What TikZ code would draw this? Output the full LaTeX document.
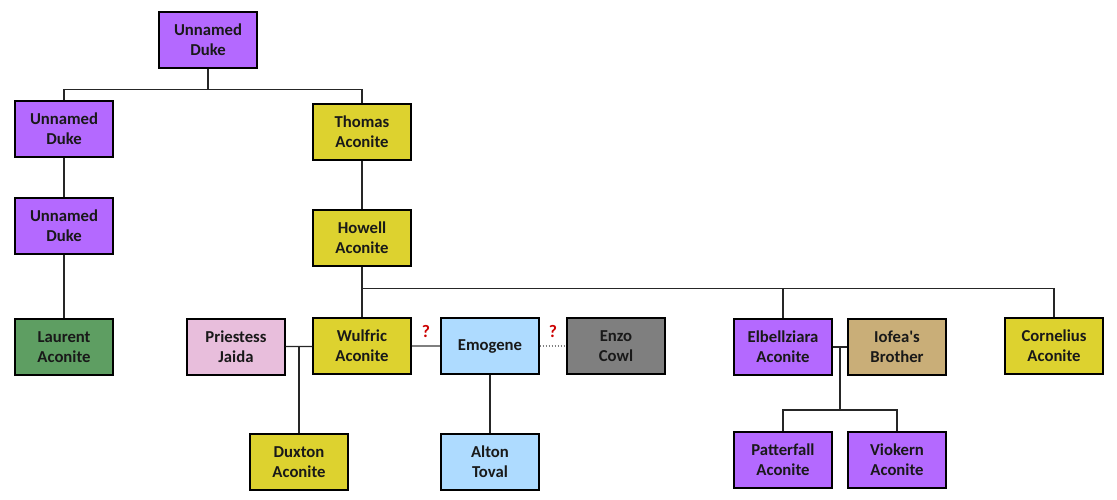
\documentclass[tikz,border=0pt]{standalone}
\usepackage{fontspec}
\setmainfont{Carlito}[Ligatures=TeXOff]
\usetikzlibrary{calc}
\definecolor{duke}{HTML}{B469FF}
\definecolor{gold}{HTML}{DDD22F}
\definecolor{leaf}{HTML}{5E9E62}
\definecolor{rose}{HTML}{E8BEDC}
\definecolor{sky}{HTML}{AEDBFF}
\definecolor{ash}{HTML}{7F7F7F}
\definecolor{tan}{HTML}{C9AE78}
\begin{document}
\begin{tikzpicture}[
  person/.style={draw, line width=0.8pt, rectangle, minimum width=1.96cm, minimum height=1.12cm,
    align=center, font=\fontsize{9.5}{11.4}\selectfont\bfseries, text=black!90},
  link/.style={line width=0.7pt, black!85}]
\useasboundingbox (0,0) rectangle (22.34,-9.98);
\node[person, fill=duke] (topduke) at (4.16,-0.80) {Unnamed\\Duke};
\node[person, fill=duke] (dukeb) at (1.28,-2.58) {Unnamed\\Duke};
\node[person, fill=duke] (dukec) at (1.28,-4.52) {Unnamed\\Duke};
\node[person, fill=leaf] (laurent) at (1.28,-6.94) {Laurent\\Aconite};
\node[person, fill=gold] (thomas) at (7.24,-2.64) {Thomas\\Aconite};
\node[person, fill=gold] (howell) at (7.24,-4.76) {Howell\\Aconite};
\node[person, fill=rose] (jaida) at (4.72,-6.94) {Priestess\\Jaida};
\node[person, fill=gold] (wulfric) at (7.24,-6.92) {Wulfric\\Aconite};
\node[person, fill=sky] (emogene) at (9.80,-6.92) {Emogene};
\node[person, fill=ash] (enzo) at (12.32,-6.92) {Enzo\\Cowl};
\node[person, fill=gold] (duxton) at (5.98,-9.24) {Duxton\\Aconite};
\node[person, fill=sky] (alton) at (9.80,-9.24) {Alton\\Toval};
\node[person, fill=duke] (elbell) at (15.66,-6.94) {Elbellziara\\Aconite};
\node[person, fill=tan] (iofea) at (17.94,-6.94) {Iofea's\\Brother};
\node[person, fill=gold] (cornelius) at (21.08,-6.92) {Cornelius\\Aconite};
\node[person, fill=duke] (patterfall) at (15.66,-9.20) {Patterfall\\Aconite};
\node[person, fill=duke] (viokern) at (17.94,-9.20) {Viokern\\Aconite};

% first generations
\draw[link] (topduke.south) -- ++(0,-0.42) coordinate (top) -| (dukeb.north);
\draw[link] (top) -| (thomas.north);
\draw[link] (dukeb) -- (dukec);
\draw[link] (dukec) -- (laurent);
\draw[link] (thomas) -- (howell);

% children of Howell
\draw[link] (howell.south) -- ++(0,-0.44) coordinate (hw) -- (wulfric.north);
\draw[link] (hw) -| (elbell.north);
\draw[link] (hw) -| (cornelius.north);

% Wulfric and partners
\draw[link] (jaida) -- (wulfric);
\coordinate (jw) at ($(jaida.east)!0.5!(wulfric.west)$);
\draw[link] (jw) -- (jw |- duxton.north);
\draw[line width=0.7pt, ash] (wulfric) -- node[above=1pt, text=red!80!black, font=\bfseries] {?} (emogene);
\draw[line width=0.7pt, ash, densely dotted] (emogene) -- node[above=1pt, text=red!80!black, font=\bfseries] {?} (enzo);
\draw[link] (emogene) -- (alton);

% Elbellziara's children
\coordinate (ei) at ($(elbell.east)!0.5!(iofea.west)$);
\draw[link] (elbell.east) -- (iofea.west);
\draw[link] (ei) -- ++(0,-1.26) coordinate (kids);
\draw[link] (patterfall.north) |- (kids) -| (viokern.north);
\end{tikzpicture}
\end{document}
